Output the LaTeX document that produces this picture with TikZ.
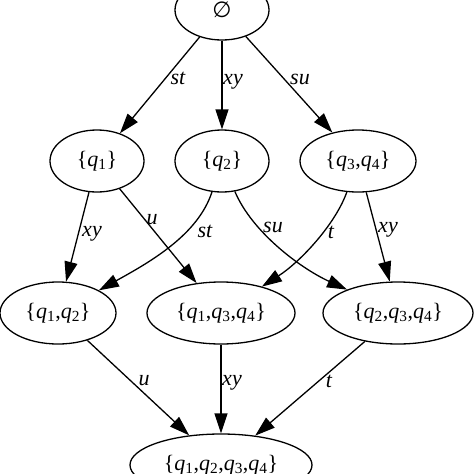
\documentclass[tikz,border=0pt]{standalone}
\usepackage{fontspec}
\setmainfont{Liberation Serif}
\newfontfamily\symfont{DejaVu Sans}
\usetikzlibrary{shapes.geometric,arrows.meta}
\newcommand{\qq}[1]{\textit{q}\textsubscript{#1}}
\begin{document}
\begin{tikzpicture}[x=1pt,y=-1pt,
  st/.style={draw,ellipse,line width=1.3pt,inner sep=0pt,minimum height=62pt,font=\fontsize{22}{26}\selectfont},
  lab/.style={anchor=base,inner sep=0pt,font=\fontsize{22}{26}\selectfont\itshape},
  arr/.style={line width=1.3pt,-{Triangle[length=20pt,width=13pt]}}]
\useasboundingbox (0,0) rectangle (474,474);
\node[st,minimum width=94pt,minimum height=60pt] (r) at (222,10) {\symfont ∅};
\node[st,minimum width=94pt] (a) at (97,161) {\{\qq{1}\}};
\node[st,minimum width=94pt] (b) at (222,161) {\{\qq{2}\}};
\node[st,minimum width=116pt] (c) at (358,161) {\{\qq{3},\qq{4}\}};
\node[st,minimum width=116pt] (ab) at (58,313) {\{\qq{1},\qq{2}\}};
\node[st,minimum width=148pt] (ac) at (221,313) {\{\qq{1},\qq{3},\qq{4}\}};
\node[st,minimum width=150pt] (bc) at (398,313) {\{\qq{2},\qq{3},\qq{4}\}};
\node[st,minimum width=182pt] (all) at (221,465) {\{\qq{1},\qq{2},\qq{3},\qq{4}\}};
\draw[arr] (r) -- (a);
\draw[arr] (r) -- (b);
\draw[arr] (r) -- (c);
\draw[arr] (a) -- (ab);
\draw[arr] (a) -- (ac);
\draw[arr] (b) .. controls (198,235) and (150,262) .. (ab);
\draw[arr] (b) .. controls (252,232) and (300,268) .. (bc);
\draw[arr] (c) .. controls (335,225) and (300,262) .. (ac);
\draw[arr] (c) -- (bc);
\draw[arr] (ab) -- (all);
\draw[arr] (ac) -- (all);
\draw[arr] (bc) -- (all);
\node[lab] (l1) at (178,84) {st};
\node[lab] (l2) at (233,84) {xy};
\node[lab] (l3) at (300,84) {su};
\node[lab] (l4) at (92,236) {xy};
\node[lab] (l5) at (152,224) {u};
\node[lab] (l6) at (205,237) {st};
\node[lab] (l7) at (273,232) {su};
\node[lab] (l8) at (331,238) {t};
\node[lab] (l9) at (388,232) {xy};
\node[lab] (l10) at (144,385) {u};
\node[lab] (l11) at (232,385) {xy};
\node[lab] (l12) at (329,387) {t};
\end{tikzpicture}
\end{document}
